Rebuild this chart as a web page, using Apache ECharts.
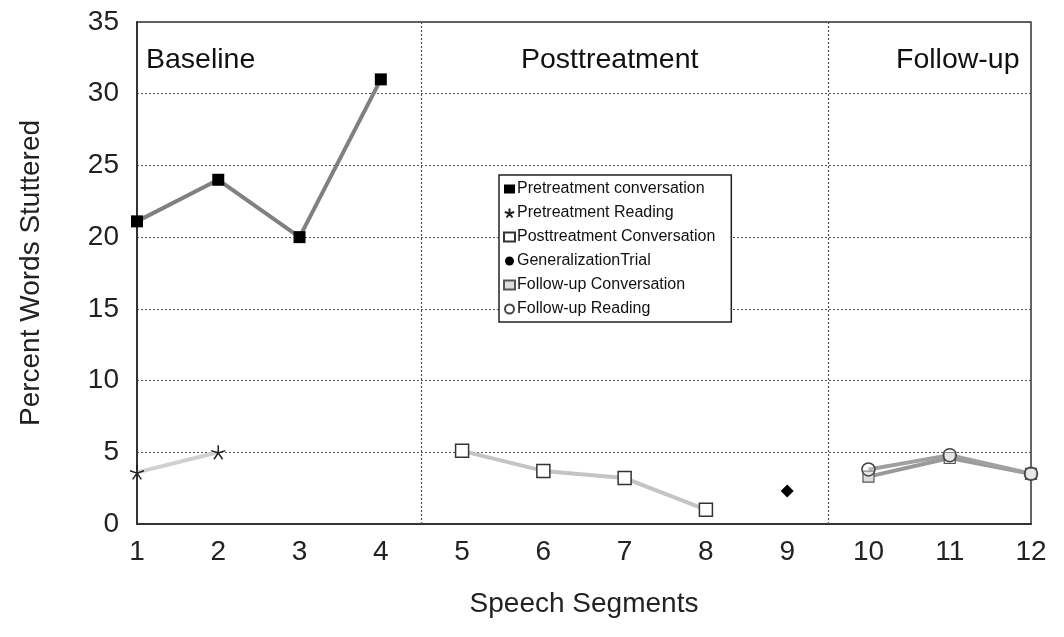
<!DOCTYPE html>
<html>
<head>
<meta charset="utf-8">
<title>Percent Words Stuttered</title>
<style>
  html, body { margin: 0; padding: 0; background: #fff; }
  #myReport { width: 1064px; height: 637px; }
</style>
</head>
<body>
<div id="myReport"></div>
<script type="text/javascript" src="https://cdn.jsdelivr.net/npm/echarts@6/dist/echarts.min.js"></script>
<script type="text/javascript">
// values
var seriesNames = ['Pretreatment conversation', 'Pretreatment Reading', 'Posttreatment Conversation',
                   'GeneralizationTrial', 'Follow-up Conversation', 'Follow-up Reading'];
var preConvX = [1, 2, 3, 4];
var preConvY = [21.1, 24.0, 20.0, 31.0];
var preReadX = [1, 2];
var preReadY = [3.6, 5.0];
var postConvX = [5, 6, 7, 8];
var postConvY = [5.1, 3.7, 3.2, 1.0];
var genX = [9];
var genY = [2.3];
var fuConvX = [10, 11, 12];
var fuConvY = [3.3, 4.6, 3.5];
var fuReadX = [10, 11, 12];
var fuReadY = [3.8, 4.8, 3.5];
var yTicks = [0, 5, 10, 15, 20, 25, 30, 35];
var phaseBreaks = [4.5, 9.5];
var phaseLabels = ['Baseline', 'Posttreatment', 'Follow-up'];

var FONT = 'Arial, "Liberation Sans", sans-serif';
var starPath = 'path://M10 10 L10 0 M10 10 L19.51 6.91 M10 10 L15.88 18.09 M10 10 L4.12 18.09 M10 10 L0.49 6.91';

function pairs(xs, ys) {
    var out = [];
    for (var i = 0; i < xs.length; i++) out.push([xs[i], ys[i]]);
    return out;
}

var myChart = echarts.init(document.getElementById('myReport'));
option = {
    animation: false,
    backgroundColor: '#fff',
    textStyle: { fontFamily: FONT },
    grid: {
        left: 137, right: 33, top: 22, bottom: 113,
        show: true, borderColor: '#333', borderWidth: 1.5, backgroundColor: 'transparent'
    },
    legend: {
        orient: 'vertical',
        left: 499, top: 175,
        padding: [6, 16, 5, 4],
        itemGap: 8,
        itemWidth: 11, itemHeight: 9,
        borderColor: '#222', borderWidth: 1.5,
        backgroundColor: '#fff',
        textStyle: { fontFamily: FONT, fontSize: 16, lineHeight: 16, color: '#111', padding: [0, 0, 0, -3] },
        data: [
            { name: seriesNames[0], icon: 'rect' },
            { name: seriesNames[1], icon: starPath },
            { name: seriesNames[2], icon: 'rect' },
            { name: seriesNames[3], icon: 'circle' },
            { name: seriesNames[4], icon: 'rect' },
            { name: seriesNames[5], icon: 'circle' }
        ]
    },
    xAxis: {
        type: 'value', min: 1, max: 12, interval: 1,
        name: 'Speech Segments', nameLocation: 'middle', nameGap: 66,
        nameTextStyle: { fontFamily: FONT, fontSize: 28, color: '#222' },
        axisLine: { show: true, lineStyle: { color: '#333', width: 2 } },
        axisTick: { show: false },
        axisLabel: { fontFamily: FONT, fontSize: 28, color: '#222', margin: 14 },
        splitLine: { show: false }
    },
    yAxis: {
        type: 'value', min: 0, max: 35, interval: 5,
        name: 'Percent Words Stuttered', nameLocation: 'middle', nameGap: 92, nameRotate: 90,
        nameTextStyle: { fontFamily: FONT, fontSize: 28, color: '#222' },
        axisLine: { show: true, lineStyle: { color: '#333', width: 2 } },
        axisTick: { show: false },
        axisLabel: {
            fontFamily: FONT, fontSize: 28, color: '#222', margin: 18,
            formatter: function (v) { return yTicks.indexOf(v) >= 0 ? String(v) : ''; }
        },
        splitLine: { show: true, lineStyle: { color: '#555', type: [2, 2], width: 1 } }
    },
    graphic: [
        { type: 'text', left: 146, top: 46, style: { text: phaseLabels[0], fontFamily: FONT, fontSize: 28.5, fill: '#111' } },
        { type: 'text', left: 521, top: 46, style: { text: phaseLabels[1], fontFamily: FONT, fontSize: 28.5, fill: '#111' } },
        { type: 'text', left: 896, top: 46, style: { text: phaseLabels[2], fontFamily: FONT, fontSize: 28.5, fill: '#111' } }
    ],
    series: [
        {
            name: seriesNames[0], type: 'line', data: pairs(preConvX, preConvY),
            symbol: 'rect', symbolSize: 12,
            itemStyle: { color: '#000' },
            lineStyle: { color: '#808080', width: 4 },
            z: 5,
            markLine: {
                silent: true, symbol: 'none', label: { show: false },
                lineStyle: { color: '#555', type: [2, 2], width: 1.2 },
                data: phaseBreaks.map(function (b) { return { xAxis: b }; })
            }
        },
        {
            name: seriesNames[1], type: 'line', data: pairs(preReadX, preReadY),
            symbol: starPath, symbolSize: 14,
            itemStyle: { color: 'transparent', borderColor: '#222', borderWidth: 1.5 },
            lineStyle: { color: '#d0d0d0', width: 4 },
            z: 4
        },
        {
            name: seriesNames[2], type: 'line', data: pairs(postConvX, postConvY),
            symbol: 'rect', symbolSize: 13,
            itemStyle: { color: '#fff', borderColor: '#333', borderWidth: 1.5 },
            lineStyle: { color: '#c4c4c4', width: 4 },
            z: 4
        },
        {
            name: seriesNames[3], type: 'line', data: pairs(genX, genY),
            symbol: 'diamond', symbolSize: 13,
            itemStyle: { color: '#000' },
            lineStyle: { color: '#000', width: 2 },
            z: 4
        },
        {
            name: seriesNames[4], type: 'line', data: pairs(fuConvX, fuConvY),
            symbol: 'rect', symbolSize: 11,
            itemStyle: { color: '#ddd', borderColor: '#555', borderWidth: 1.2 },
            lineStyle: { color: '#999', width: 4 },
            z: 4
        },
        {
            name: seriesNames[5], type: 'line', data: pairs(fuReadX, fuReadY),
            symbol: 'circle', symbolSize: 13,
            itemStyle: { color: 'rgba(255,255,255,0.3)', borderColor: '#444', borderWidth: 1.5 },
            lineStyle: { color: '#a0a0a0', width: 4 },
            z: 4
        }
    ]
};
myChart.setOption(option);
</script>
</body>
</html>
